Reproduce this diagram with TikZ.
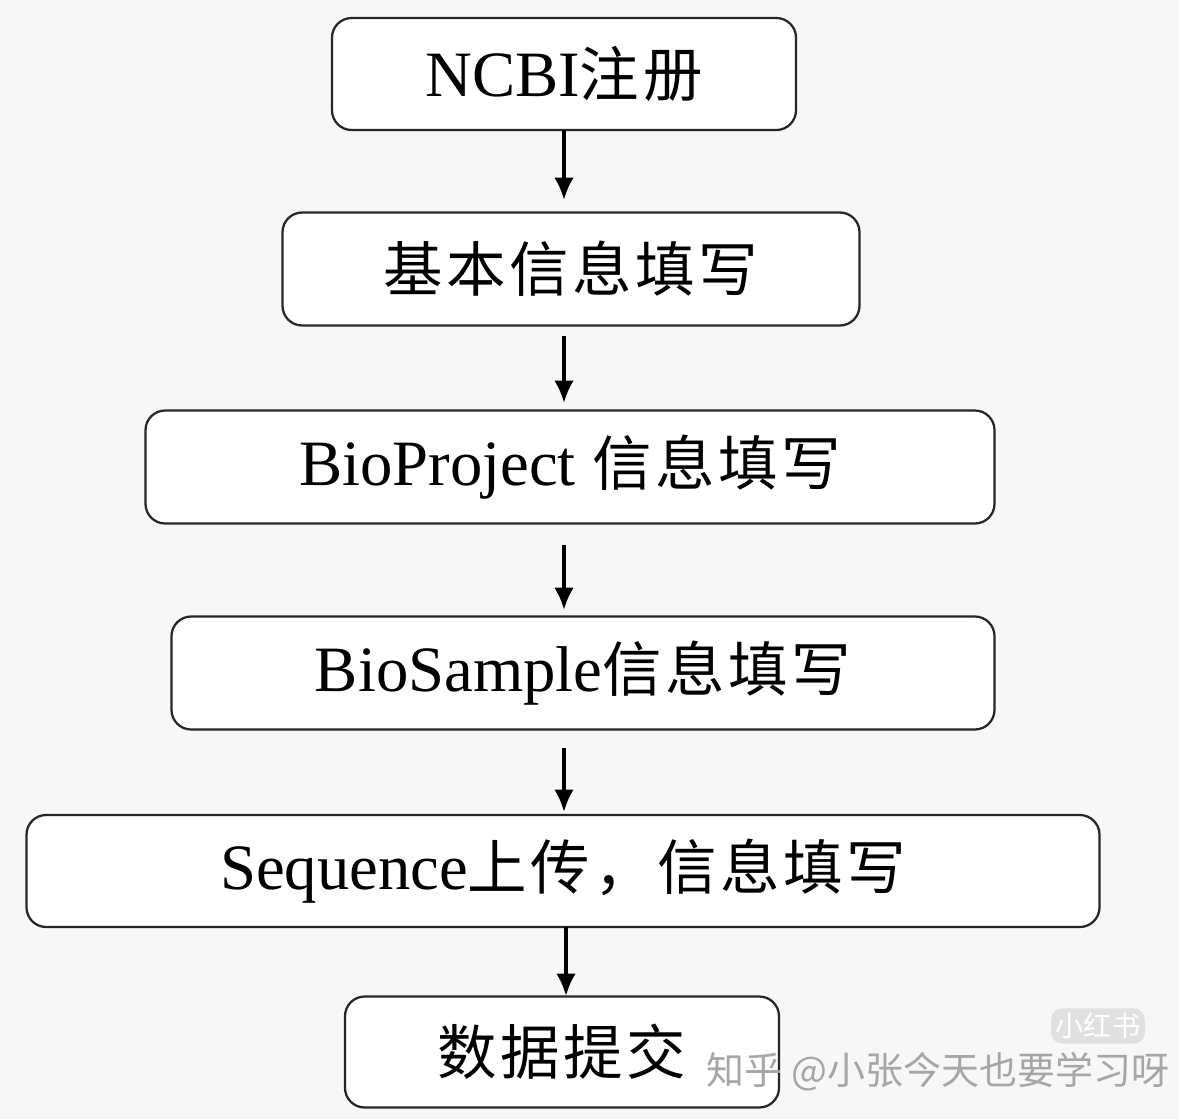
\documentclass[tikz,border=0pt]{standalone}
\usepackage{fontspec}
\setmainfont{Liberation Serif}
\newfontfamily\cjk{Noto Sans CJK SC}[Scale=0.92,LetterSpace=6]
\newfontfamily\wmfont{Noto Sans CJK SC}
\usetikzlibrary{arrows.meta}
\begin{document}
\begin{tikzpicture}[x=0.025cm,y=-0.025cm,
  box/.style={draw=black!85,line width=1.6pt,fill=white,rounded corners=14pt,inner sep=0pt,font=\fontsize{46}{48}\selectfont},
  arr/.style={line width=2.6pt,-{Latex[length=16pt,width=14pt]}}]
\fill[black!3] (0,0) rectangle (1179,1119);
\useasboundingbox (0,0) rectangle (1179,1119);
\node[box,minimum width=464*0.025cm,minimum height=112*0.025cm] (n1) at (564,74) {NCBI{\cjk 注册}};
\node[box,minimum width=577*0.025cm,minimum height=113*0.025cm] (n2) at (571,269) {\cjk 基本信息填写};
\node[box,minimum width=849*0.025cm,minimum height=113*0.025cm] (n3) at (570,467) {BioProject {\cjk 信息填写}};
\node[box,minimum width=823*0.025cm,minimum height=113*0.025cm] (n4) at (583,673) {BioSample{\cjk 信息填写}};
\node[box,minimum width=1073*0.025cm,minimum height=112*0.025cm] (n5) at (563,871) {Sequence{\cjk 上传，信息填写}};
\node[box,minimum width=434*0.025cm,minimum height=111*0.025cm] (n6) at (562,1052) {\cjk 数据提交};
\coordinate (a1) at (564,130); \coordinate (b1) at (564,200);
\coordinate (a2) at (564,336); \coordinate (b2) at (564,403);
\coordinate (a3) at (564,545); \coordinate (b3) at (564,610);
\coordinate (a4) at (564,748); \coordinate (b4) at (564,812);
\coordinate (a5) at (566,927); \coordinate (b5) at (566,996);
\draw[arr] (a1) -- (b1);
\draw[arr] (a2) -- (b2);
\draw[arr] (a3) -- (b3);
\draw[arr] (a4) -- (b4);
\draw[arr] (a5) -- (b5);
\node[font=\wmfont\fontsize{20}{22}\selectfont,text=white,fill=black!12,rounded corners=8pt] (wm1) at (1098,1026) {小红书};
\node[font=\wmfont\fontsize{27}{29}\selectfont,text=black!35] (wm2) at (938,1072) {知乎 @小张今天也要学习呀};
\end{tikzpicture}
\end{document}
